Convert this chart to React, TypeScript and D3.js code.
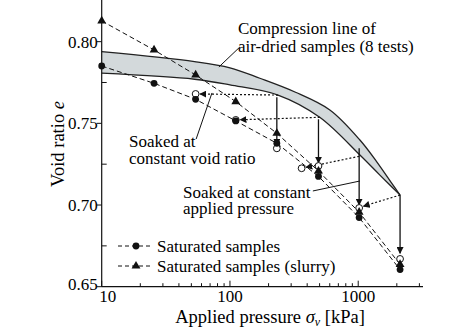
import React from 'react';
import * as d3 from 'd3';

// ---- data ----
const pressures = [10, 25.6, 54, 111, 232, 490, 1017, 2120];
const eSaturated = [0.7851, 0.7745, 0.7647, 0.7515, 0.7378, 0.7175, 0.6923, 0.6605];
const eSlurry = [0.8127, 0.7949, 0.7796, 0.7633, 0.7439, 0.7208, 0.6956, 0.6636];

const bandUpperP = [10, 53, 100, 171, 321, 601, 1031, 1400, 1864, 2120];
const bandUpperE = [0.7939, 0.7878, 0.784, 0.7776, 0.7692, 0.7582, 0.7398, 0.7263, 0.7123, 0.7061];
const bandLowerP = [10, 53, 100, 237, 501, 1031, 1476, 2120];
const bandLowerE = [0.7807, 0.777, 0.7735, 0.7673, 0.7537, 0.7306, 0.7183, 0.7061];

const openP = [54, 111, 232, 362, 490, 1017, 2120];
const openE = [0.768, 0.7521, 0.7347, 0.7225, 0.7239, 0.6982, 0.667];

// soaked at constant void ratio (dotted arrows)
const dotFromP = [237, 501, 1017, 2120];
const dotFromE = [0.7673, 0.7537, 0.7298, 0.7061];
const dotToP = [54, 111, 362, 1017];
const dotToE = [0.768, 0.7521, 0.7225, 0.6985];

// soaked at constant applied pressure (vertical arrows)
const vertP = [232, 490, 1017, 2120];
const vertTopE = [0.766, 0.7525, 0.7347, 0.7061];
const vertTipE = [0.7367, 0.7257, 0.7, 0.6704];

const yMajor = [0.65, 0.7, 0.75, 0.8];
const yMinor = [0.675, 0.725, 0.775];
const xMajor = [10, 100, 1000];
const xMinor = [20, 30, 40, 50, 60, 70, 80, 90, 200, 300, 400, 500, 600, 700, 800, 900, 2000, 3000];

// leader lines in data space [p1, e1, p2, e2]
const leaderCompression = [119.7, 0.7968, 82, 0.7845];
const leaderVoid = [54.5, 0.7404, 72.4, 0.7686];
const leaderPressure = [443, 0.7086, 1031, 0.7147];

const FONT = "'Liberation Serif', 'Times New Roman', serif";

export default function App() {
  const x = d3.scaleLog().domain([10, 3200]).range([101.7, 423]);
  const y = d3.scaleLinear().domain([0.65, 0.8255]).range([286.7, 0]);

  const lineGen = d3
    .line<[number, number]>()
    .x((d) => x(d[0]))
    .y((d) => y(d[1]))
    .curve(d3.curveCatmullRom.alpha(0.5));
  const straight = d3
    .line<[number, number]>()
    .x((d) => x(d[0]))
    .y((d) => y(d[1]));

  const upper: [number, number][] = bandUpperP.map((p, i) => [p, bandUpperE[i]]);
  const lower: [number, number][] = bandLowerP.map((p, i) => [p, bandLowerE[i]]);
  const upperPath = lineGen(upper) as string;
  const lowerPath = lineGen(lower) as string;
  const lowerRev = lineGen([...lower].reverse()) as string;
  const bandPath = upperPath + 'L' + lowerRev.slice(1) + 'Z';

  const sat: [number, number][] = pressures.map((p, i) => [p, eSaturated[i]]);
  const slu: [number, number][] = pressures.map((p, i) => [p, eSlurry[i]]);

  const tri = d3.symbol().type(d3.symbolTriangle).size(34)() as string;
  const R = 3.4;

  const shorten = (x1: number, y1: number, x2: number, y2: number, d: number) => {
    const L = Math.hypot(x2 - x1, y2 - y1);
    return [x2 - ((x2 - x1) / L) * d, y2 - ((y2 - y1) / L) * d];
  };

  return (
    <svg
      width={474}
      height={333}
      style={{ position: 'absolute', left: 0, top: 0, background: '#fff' }}
      fontFamily={FONT}
    >
      <defs>
        <marker id="ah" viewBox="0 0 10 10" refX="9" refY="5" markerWidth="7" markerHeight="7" markerUnits="userSpaceOnUse" orient="auto">
          <path d="M0,0 L10,5 L0,10 Z" fill="#111" />
        </marker>
      </defs>

      {/* band */}
      <path d={bandPath} fill="#d3d9db" stroke="none" />
      <path d={upperPath} fill="none" stroke="#222" strokeWidth={1.3} />
      <path d={lowerPath} fill="none" stroke="#222" strokeWidth={1.3} />

      {/* series lines */}
      <path d={straight(sat) as string} fill="none" stroke="#111" strokeWidth={1} strokeDasharray="5,3" />
      <path d={straight(slu) as string} fill="none" stroke="#111" strokeWidth={1} strokeDasharray="5,3" />

      {/* dotted arrows */}
      {dotFromP.map((p, i) => {
        const x1 = x(p), y1 = y(dotFromE[i]);
        const [x2, y2] = shorten(x1, y1, x(dotToP[i]), y(dotToE[i]), R + 1);
        return (
          <line key={'d' + i} x1={x1} y1={y1} x2={x2} y2={y2} stroke="#111" strokeWidth={1.2}
            strokeDasharray="2,2" markerEnd="url(#ah)" />
        );
      })}

      {/* vertical arrows */}
      {vertP.map((p, i) => (
        <line key={'v' + i} x1={x(p)} y1={y(vertTopE[i])} x2={x(p)} y2={y(vertTipE[i])}
          stroke="#111" strokeWidth={1.3} markerEnd="url(#ah)" />
      ))}

      {/* open circles */}
      {openP.map((p, i) => (
        <circle key={'o' + i} cx={x(p)} cy={y(openE[i])} r={R} fill="#fff" stroke="#111" strokeWidth={1} />
      ))}

      {/* filled markers */}
      {slu.map((d, i) => (
        <path key={'t' + i} d={tri} transform={`translate(${x(d[0])},${y(d[1])})`} fill="#111" />
      ))}
      {sat.map((d, i) => (
        <circle key={'c' + i} cx={x(d[0])} cy={y(d[1])} r={R} fill="#111" />
      ))}

      {/* leaders */}
      {[leaderCompression, leaderVoid, leaderPressure].map((l, i) => (
        <line key={'l' + i} x1={x(l[0])} y1={y(l[1])} x2={x(l[2])} y2={y(l[3])} stroke="#111" strokeWidth={1} />
      ))}

      {/* axes */}
      <line x1={x(10)} x2={x(3200)} y1={y(0.65)} y2={y(0.65)} stroke="#111" strokeWidth={1.2} />
      <line x1={x(10)} x2={x(10)} y1={y(0.65)} y2={y(0.8255)} stroke="#111" strokeWidth={1.2} />
      {xMajor.map((v) => (
        <g key={'xm' + v}>
          <line x1={x(v)} x2={x(v)} y1={y(0.65)} y2={y(0.65) - 6} stroke="#111" strokeWidth={1} />
          <text x={x(v) + (v === 10 ? 6 : 0)} y={302} textAnchor="middle" fontSize={17}>{v}</text>
        </g>
      ))}
      {xMinor.map((v) => (
        <line key={'xn' + v} x1={x(v)} x2={x(v)} y1={y(0.65)} y2={y(0.65) - 3.5} stroke="#111" strokeWidth={1} />
      ))}
      {yMajor.map((v) => (
        <g key={'ym' + v}>
          <line x1={x(10) - 5} x2={x(10)} y1={y(v)} y2={y(v)} stroke="#111" strokeWidth={1} />
          <text x={x(10) - 4} y={y(v) - (v === 0.65 ? 3 : 0)} dy="0.35em" textAnchor="end" fontSize={17}>{v.toFixed(2)}</text>
        </g>
      ))}
      {yMinor.map((v) => (
        <line key={'yn' + v} x1={x(10)} x2={x(10) + 5} y1={y(v)} y2={y(v)} stroke="#111" strokeWidth={1} />
      ))}

      {/* axis titles */}
      <text x={270} y={323} textAnchor="middle" fontSize={18.5}>
        Applied pressure <tspan fontStyle="italic">σ</tspan>
        <tspan fontStyle="italic" fontSize={12} dy={3}>v</tspan>
        <tspan dy={-3}> [kPa]</tspan>
      </text>
      <text transform="translate(64,144) rotate(-90)" textAnchor="middle" fontSize={18.5}>
        Void ratio <tspan fontStyle="italic">e</tspan>
      </text>

      {/* annotations */}
      <text fontSize={17}>
        <tspan x={238} y={34}>Compression line of</tspan>
        <tspan x={238} y={51.5}>air-dried samples (8 tests)</tspan>
      </text>
      <text fontSize={17}>
        <tspan x={129} y={146.5}>Soaked at</tspan>
        <tspan x={129} y={163.5}>constant void ratio</tspan>
      </text>
      <text fontSize={17}>
        <tspan x={183} y={197.5}>Soaked at constant</tspan>
        <tspan x={183} y={214}>applied pressure</tspan>
      </text>

      {/* legend */}
      <line x1={118} x2={153} y1={246} y2={246} stroke="#111" strokeDasharray="4,3" />
      <circle cx={136} cy={246} r={R} fill="#111" />
      <text x={157} y={251.5} fontSize={17}>Saturated samples</text>
      <line x1={118} x2={153} y1={266} y2={266} stroke="#111" strokeDasharray="4,3" />
      <path d={tri} transform="translate(136,266)" fill="#111" />
      <text x={157} y={271.5} fontSize={17}>Saturated samples (slurry)</text>
    </svg>
  );
}
